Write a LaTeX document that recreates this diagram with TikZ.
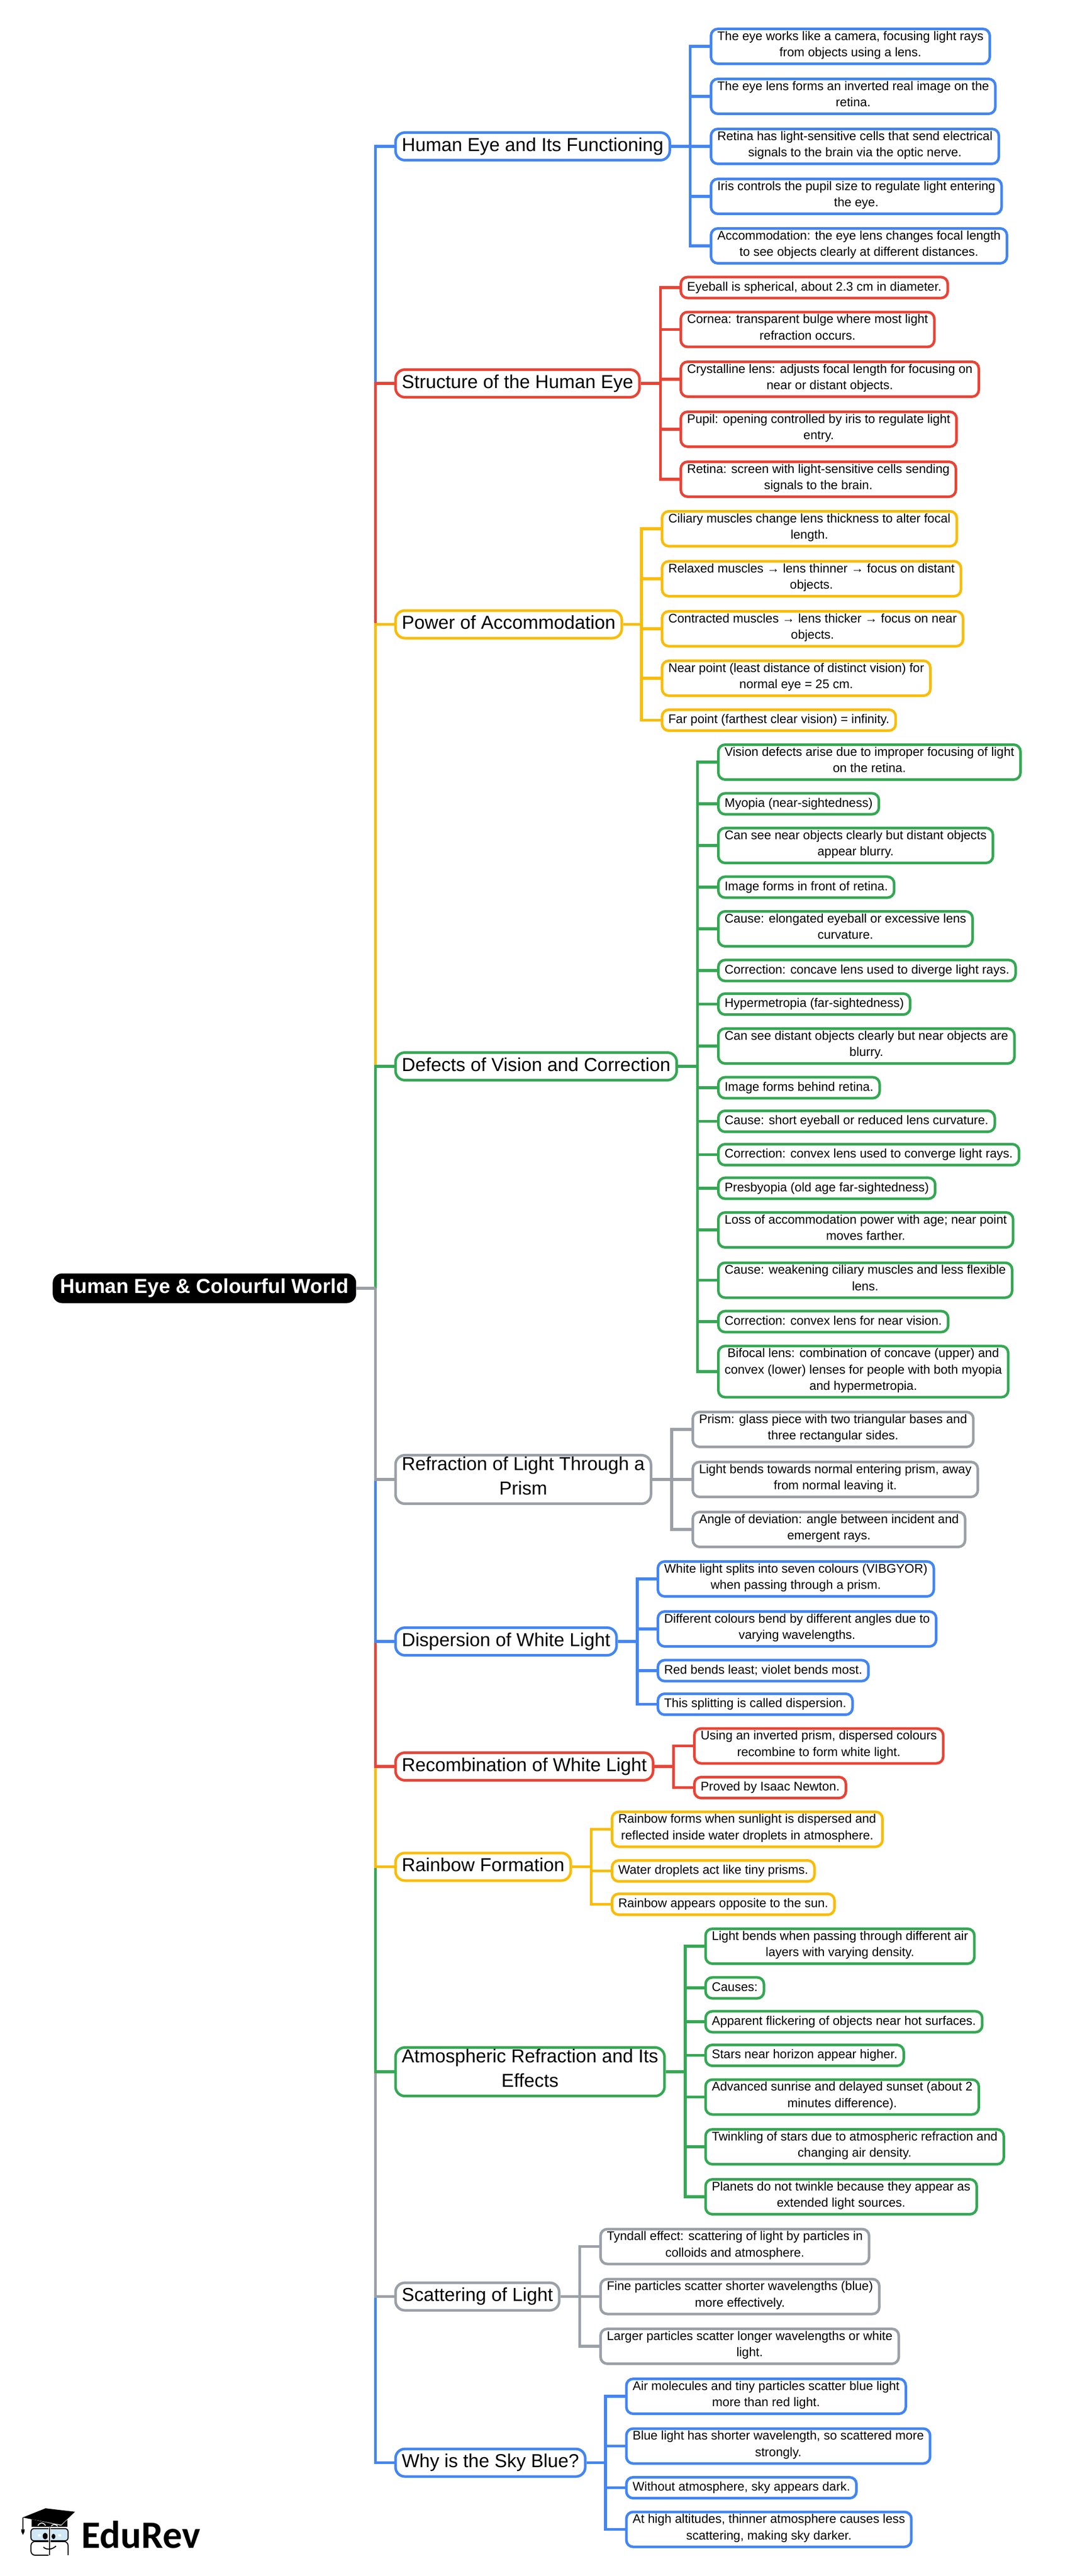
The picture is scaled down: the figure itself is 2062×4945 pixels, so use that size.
\documentclass[tikz,border=0pt]{standalone}
\usepackage{fontspec}
\setmainfont{Liberation Sans}
\newfontfamily\logofont{Carlito}
\usepackage{xcolor}
\definecolor{Col1}{RGB}{66,133,244}
\definecolor{Col2}{RGB}{234,67,53}
\definecolor{Col3}{RGB}{251,188,4}
\definecolor{Col4}{RGB}{52,168,83}
\definecolor{Col5}{RGB}{154,160,166}
\definecolor{Col6}{RGB}{208,232,246}
\newcommand{\MainStrut}{\vrule width 0pt height 16.45pt depth 7.05pt}
\newcommand{\LeafStrut}{\vrule width 0pt height 10.9pt depth 4.7pt}
\tikzstyle{Root}=[rectangle,rounded corners=9pt,fill=black,text=white,anchor=west,
inner xsep=7.25pt,inner ysep=2.5pt,execute at begin node=\MainStrut,
font=\fontsize{19.4}{23.5}\selectfont\bfseries]
\tikzstyle{Main}=[rectangle,rounded corners=9pt,fill=white,line width=2.5pt,anchor=west,
align=center,inner xsep=6pt,inner ysep=1.5pt,execute at begin node=\MainStrut,
execute at end node=\MainStrut,font=\fontsize{18}{23.5}\selectfont]
\tikzstyle{Leaf}=[rectangle,rounded corners=6.5pt,fill=white,line width=2.5pt,anchor=west,
align=center,inner xsep=6pt,inner ysep=2.25pt,execute at begin node=\LeafStrut,
execute at end node=\LeafStrut,font=\fontsize{12}{15.6}\selectfont]
\tikzstyle{Edge}=[line width=2.75pt]
\tikzstyle{Logo}=[anchor=west,inner sep=0pt,font=\fontsize{37.2}{40}\logofont\bfseries]

\begin{document}
\begin{tikzpicture}[x=.5pt,y=.5pt]
            \useasboundingbox(0,0)rectangle(2062,-4945);
            \node[Root](r)at(100.8,-2473){Human Eye \& Colourful World};
            \coordinate(h)at(720.5,-2473);
            % first level
            \node[Main,draw=Col1](1)at(756.5,-281){Human Eye and Its Functioning};
            \node[Main,draw=Col2](2)at(756.5,-736){Structure of the Human Eye};
            \node[Main,draw=Col3](3)at(756.5,-1198.5){Power of Accommodation};
            \node[Main,draw=Col4](4)at(756.5,-2047){Defects of Vision and Correction};
            \node[Main,draw=Col5](5)at(756.5,-2840){Refraction of Light Through a\\Prism};
            \node[Main,draw=Col1](6)at(756.5,-3151){Dispersion of White Light};
            \node[Main,draw=Col2](7)at(756.5,-3391){Recombination of White Light};
            \node[Main,draw=Col3](8)at(756.5,-3583.5){Rainbow Formation};
            \node[Main,draw=Col4](9)at(756.5,-3977){Atmospheric Refraction and Its\\Effects};
            \node[Main,draw=Col5](10)at(756.5,-4408.5){Scattering of Light};
            \node[Main,draw=Col1](11)at(756.5,-4727.5){Why is the Sky Blue?};
            % second level
            \node[Leaf,draw=Col1](1a)at(1362,-89){The eye works like a camera, focusing light rays\\from objects using a lens.};
            \node[Leaf,draw=Col1](1b)at(1362,-185){The eye lens forms an inverted real image on the\\retina.};
            \node[Leaf,draw=Col1](1c)at(1362,-281){Retina has light-sensitive cells that send electrical\\signals to the brain via the optic nerve.};
            \node[Leaf,draw=Col1](1d)at(1362,-377){Iris controls the pupil size to regulate light entering\\the eye.};
            \node[Leaf,draw=Col1](1e)at(1362,-472){Accommodation: the eye lens changes focal length\\to see objects clearly at different distances.};
            %
            \node[Leaf,draw=Col2](2a)at(1304,-552){Eyeball is spherical, about 2.3 cm in diameter.};
            \node[Leaf,draw=Col2](2b)at(1304,-632.5){Cornea: transparent bulge where most light\\refraction occurs.};
            \node[Leaf,draw=Col2](2c)at(1304,-728){Crystalline lens: adjusts focal length for focusing on\\near or distant objects.};
            \node[Leaf,draw=Col2](2d)at(1304,-824){Pupil: opening controlled by iris to regulate light\\entry.};
            \node[Leaf,draw=Col2](2e)at(1304,-920){Retina: screen with light-sensitive cells sending\\signals to the brain.};
            %
            \node[Leaf,draw=Col3](3a)at(1268,-1015){Ciliary muscles change lens thickness to alter focal\\length.};
            \node[Leaf,draw=Col3](3b)at(1268,-1111){Relaxed muscles → lens thinner → focus on distant\\objects.};
            \node[Leaf,draw=Col3](3c)at(1268,-1207){Contracted muscles → lens thicker → focus on near\\objects.};
            \node[Leaf,draw=Col3](3d)at(1268,-1302){Near point (least distance of distinct vision) for\\normal eye = 25 cm.};
            \node[Leaf,draw=Col3](3e)at(1268,-1382.5){Far point (farthest clear vision) = infinity.};
            %
            \node[Leaf,draw=Col4](4a)at(1376,-1463){Vision defects arise due to improper focusing of light\\on the retina.};
            \node[Leaf,draw=Col4](4b)at(1376,-1543){Myopia (near-sightedness)};
            \node[Leaf,draw=Col4](4c)at(1376,-1623){Can see near objects clearly but distant objects\\appear blurry.};
            \node[Leaf,draw=Col4](4d)at(1376,-1703){Image forms in front of retina.};
            \node[Leaf,draw=Col4](4e)at(1376,-1783){Cause: elongated eyeball or excessive lens\\curvature.};
            \node[Leaf,draw=Col4](4f)at(1376,-1863){Correction: concave lens used to diverge light rays.};
            \node[Leaf,draw=Col4](4g)at(1376,-1927.5){Hypermetropia (far-sightedness)};
            \node[Leaf,draw=Col4](4h)at(1376,-2008){Can see distant objects clearly but near objects are\\blurry.};
            \node[Leaf,draw=Col4](4i)at(1376,-2088){Image forms behind retina.};
            \node[Leaf,draw=Col4](4j)at(1376,-2152.5){Cause: short eyeball or reduced lens curvature.};
            \node[Leaf,draw=Col4](4k)at(1376,-2216.5){Correction: convex lens used to converge light rays.};
            \node[Leaf,draw=Col4](4l)at(1376,-2281){Presbyopia (old age far-sightedness)};
            \node[Leaf,draw=Col4](4m)at(1376,-2361){Loss of accommodation power with age; near point\\moves farther.};
            \node[Leaf,draw=Col4](4n)at(1376,-2457.5){Cause: weakening ciliary muscles and less flexible\\lens.};
            \node[Leaf,draw=Col4](4o)at(1376,-2537){Correction: convex lens for near vision.};
            \node[Leaf,draw=Col4](4p)at(1376,-2633){Bifocal lens: combination of concave (upper) and\\convex (lower) lenses for people with both myopia\\and hypermetropia.};
            %
            \node[Leaf,draw=Col5](5a)at(1327,-2744){Prism: glass piece with two triangular bases and\\three rectangular sides.};
            \node[Leaf,draw=Col5](5b)at(1327,-2840){Light bends towards normal entering prism, away\\from normal leaving it.};
            \node[Leaf,draw=Col5](5c)at(1327,-2936){Angle of deviation: angle between incident and\\emergent rays.};
            %
            \node[Leaf,draw=Col1](6a)at(1260,-3031){White light splits into seven colours (VIBGYOR)\\when passing through a prism.};
            \node[Leaf,draw=Col1](6b)at(1260,-3127){Different colours bend by different angles due to\\varying wavelengths.};
            \node[Leaf,draw=Col1](6c)at(1260,-3207){Red bends least; violet bends most.};
            \node[Leaf,draw=Col1](6d)at(1260,-3271.5){This splitting is called dispersion.};
            %
            \node[Leaf,draw=Col2](7a)at(1330,-3351.5){Using an inverted prism, dispersed colours\\recombine to form white light.};
            \node[Leaf,draw=Col2](7b)at(1330,-3431.5){Proved by Isaac Newton.};
            %
            \node[Leaf,draw=Col3](8a)at(1172,-3511.5){Rainbow forms when sunlight is dispersed and\\reflected inside water droplets in atmosphere.};
            \node[Leaf,draw=Col3](8b)at(1172,-3591.5){Water droplets act like tiny prisms.};
            \node[Leaf,draw=Col3](8c)at(1172,-3655.5){Rainbow appears opposite to the sun.};
            %
            \node[Leaf,draw=Col4](9a)at(1351.5,-3736){Light bends when passing through different air\\layers with varying density.};
            \node[Leaf,draw=Col4](9b)at(1351.5,-3816){Causes:};
            \node[Leaf,draw=Col4](9c)at(1351.5,-3881){Apparent flickering of objects near hot surfaces.};
            \node[Leaf,draw=Col4](9d)at(1351.5,-3945.5){Stars near horizon appear higher.};
            \node[Leaf,draw=Col4](9e)at(1351.5,-4025.5){Advanced sunrise and delayed sunset (about 2\\minutes difference).};
            \node[Leaf,draw=Col4](9f)at(1351.5,-4121){Twinkling of stars due to atmospheric refraction and\\changing air density.};
            \node[Leaf,draw=Col4](9g)at(1351.5,-4217){Planets do not twinkle because they appear as\\extended light sources.};
            %
            \node[Leaf,draw=Col5](10a)at(1150,-4312.5){Tyndall effect: scattering of light by particles in\\colloids and atmosphere.};
            \node[Leaf,draw=Col5](10b)at(1150,-4408.5){Fine particles scatter shorter wavelengths (blue)\\more effectively.};
            \node[Leaf,draw=Col5](10c)at(1150,-4504){Larger particles scatter longer wavelengths or white\\light.};
            %
            \node[Leaf,draw=Col1](11a)at(1199.5,-4600){Air molecules and tiny particles scatter blue light\\more than red light.};
            \node[Leaf,draw=Col1](11b)at(1199.5,-4695.5){Blue light has shorter wavelength, so scattered more\\strongly.};
            \node[Leaf,draw=Col1](11c)at(1199.5,-4775.5){Without atmosphere, sky appears dark.};
            \node[Leaf,draw=Col1](11d)at(1199.5,-4855.5){At high altitudes, thinner atmosphere causes less\\scattering, making sky darker.};
            % branch points
            \coordinate(h1)at(1324.5,-281);
            \coordinate(h2)at(1267.5,-736);
            \coordinate(h3)at(1231,-1198.5);
            \coordinate(h4)at(1338.5,-2047);
            \coordinate(h5)at(1289,-2840);
            \coordinate(h6)at(1223,-3151);
            \coordinate(h7)at(1292.5,-3391);
            \coordinate(h8)at(1134.5,-3583.5);
            \coordinate(h9)at(1315,-3977);
            \coordinate(h10)at(1112.5,-4408.5);
            \coordinate(h11)at(1162,-4727.5);
            % trunk, outermost branches first
            \draw[Edge,Col1](h)|-(1.west);
            \draw[Edge,Col2](h)|-(2.west);
            \draw[Edge,Col3](h)|-(3.west);
            \draw[Edge,Col4](h)|-(4.west);
            \draw[Edge,Col1](h)|-(11.west);
            \draw[Edge,Col5](h)|-(10.west);
            \draw[Edge,Col4](h)|-(9.west);
            \draw[Edge,Col3](h)|-(8.west);
            \draw[Edge,Col2](h)|-(7.west);
            \draw[Edge,Col1](h)|-(6.west);
            \draw[Edge,Col5](h)|-(5.west);
            \draw[Edge,Col5](r.east)--(h);
            % brackets
            \draw[Edge,Col1](1.east)--(h1);
            \draw[Edge,Col1](h1)|-(1a.west);
            \draw[Edge,Col1](h1)|-(1b.west);
            \draw[Edge,Col1](h1)|-(1c.west);
            \draw[Edge,Col1](h1)|-(1d.west);
            \draw[Edge,Col1](h1)|-(1e.west);
            \draw[Edge,Col2](2.east)--(h2);
            \draw[Edge,Col2](h2)|-(2a.west);
            \draw[Edge,Col2](h2)|-(2b.west);
            \draw[Edge,Col2](h2)|-(2c.west);
            \draw[Edge,Col2](h2)|-(2d.west);
            \draw[Edge,Col2](h2)|-(2e.west);
            \draw[Edge,Col3](3.east)--(h3);
            \draw[Edge,Col3](h3)|-(3a.west);
            \draw[Edge,Col3](h3)|-(3b.west);
            \draw[Edge,Col3](h3)|-(3c.west);
            \draw[Edge,Col3](h3)|-(3d.west);
            \draw[Edge,Col3](h3)|-(3e.west);
            \draw[Edge,Col4](4.east)--(h4);
            \draw[Edge,Col4](h4)|-(4a.west);
            \draw[Edge,Col4](h4)|-(4b.west);
            \draw[Edge,Col4](h4)|-(4c.west);
            \draw[Edge,Col4](h4)|-(4d.west);
            \draw[Edge,Col4](h4)|-(4e.west);
            \draw[Edge,Col4](h4)|-(4f.west);
            \draw[Edge,Col4](h4)|-(4g.west);
            \draw[Edge,Col4](h4)|-(4h.west);
            \draw[Edge,Col4](h4)|-(4i.west);
            \draw[Edge,Col4](h4)|-(4j.west);
            \draw[Edge,Col4](h4)|-(4k.west);
            \draw[Edge,Col4](h4)|-(4l.west);
            \draw[Edge,Col4](h4)|-(4m.west);
            \draw[Edge,Col4](h4)|-(4n.west);
            \draw[Edge,Col4](h4)|-(4o.west);
            \draw[Edge,Col4](h4)|-(4p.west);
            \draw[Edge,Col5](5.east)--(h5);
            \draw[Edge,Col5](h5)|-(5a.west);
            \draw[Edge,Col5](h5)|-(5b.west);
            \draw[Edge,Col5](h5)|-(5c.west);
            \draw[Edge,Col1](6.east)--(h6);
            \draw[Edge,Col1](h6)|-(6a.west);
            \draw[Edge,Col1](h6)|-(6b.west);
            \draw[Edge,Col1](h6)|-(6c.west);
            \draw[Edge,Col1](h6)|-(6d.west);
            \draw[Edge,Col2](7.east)--(h7);
            \draw[Edge,Col2](h7)|-(7a.west);
            \draw[Edge,Col2](h7)|-(7b.west);
            \draw[Edge,Col3](8.east)--(h8);
            \draw[Edge,Col3](h8)|-(8a.west);
            \draw[Edge,Col3](h8)|-(8b.west);
            \draw[Edge,Col3](h8)|-(8c.west);
            \draw[Edge,Col4](9.east)--(h9);
            \draw[Edge,Col4](h9)|-(9a.west);
            \draw[Edge,Col4](h9)|-(9b.west);
            \draw[Edge,Col4](h9)|-(9c.west);
            \draw[Edge,Col4](h9)|-(9d.west);
            \draw[Edge,Col4](h9)|-(9e.west);
            \draw[Edge,Col4](h9)|-(9f.west);
            \draw[Edge,Col4](h9)|-(9g.west);
            \draw[Edge,Col5](10.east)--(h10);
            \draw[Edge,Col5](h10)|-(10a.west);
            \draw[Edge,Col5](h10)|-(10b.west);
            \draw[Edge,Col5](h10)|-(10c.west);
            \draw[Edge,Col1](11.east)--(h11);
            \draw[Edge,Col1](h11)|-(11a.west);
            \draw[Edge,Col1](h11)|-(11b.west);
            \draw[Edge,Col1](h11)|-(11c.west);
            \draw[Edge,Col1](h11)|-(11d.west);
            % logo
            \node[Logo](logo)at(156,-4865.5){EduRev};
            \begin{scope}[shift={(30,-4780)},x=.1667pt,y=.1667pt]
                \fill(92,-168)--(92,-212)--(298,-212)--(298,-170)--(262,-205)--cycle;
                \draw[white,line width=.8pt](128,-205) .. controls (140,-185) and (160,-183) .. (172,-205);
                \draw[white,line width=.8pt](205,-207) .. controls (215,-195) and (230,-195) .. (242,-208);
                \fill(40,-158)--(172,-105)--(342,-125)--(262,-200)--cycle;
                \draw[line width=1pt](42,-158)--(42,-224);
                \fill(32,-226)--(52,-226)--(50,-242)--(42,-258)--(34,-242)--cycle;
                \draw[line width=1pt,fill=Col6,rounded corners=3pt](88,-222)rectangle(302,-292);
                \draw[line width=1pt,rounded corners=4pt](190,-375)--(88,-375)--(88,-296)--(302,-296)--(302,-375);
                \draw[white,line width=2pt](196,-213)--(196,-376);
                \draw[line width=.9pt](196,-215)--(196,-376);
                \fill(170,-265)ellipse[x radius=14,y radius=19];
                \fill(218,-267)ellipse[x radius=11,y radius=15];
                \fill[white](128,-254)rectangle(144,-268);
                \fill[white](246,-254)rectangle(262,-268);
                \draw[line width=1pt](160,-328) .. controls (175,-345) and (210,-345) .. (232,-322);
            \end{scope}
\end{tikzpicture}
\end{document}
